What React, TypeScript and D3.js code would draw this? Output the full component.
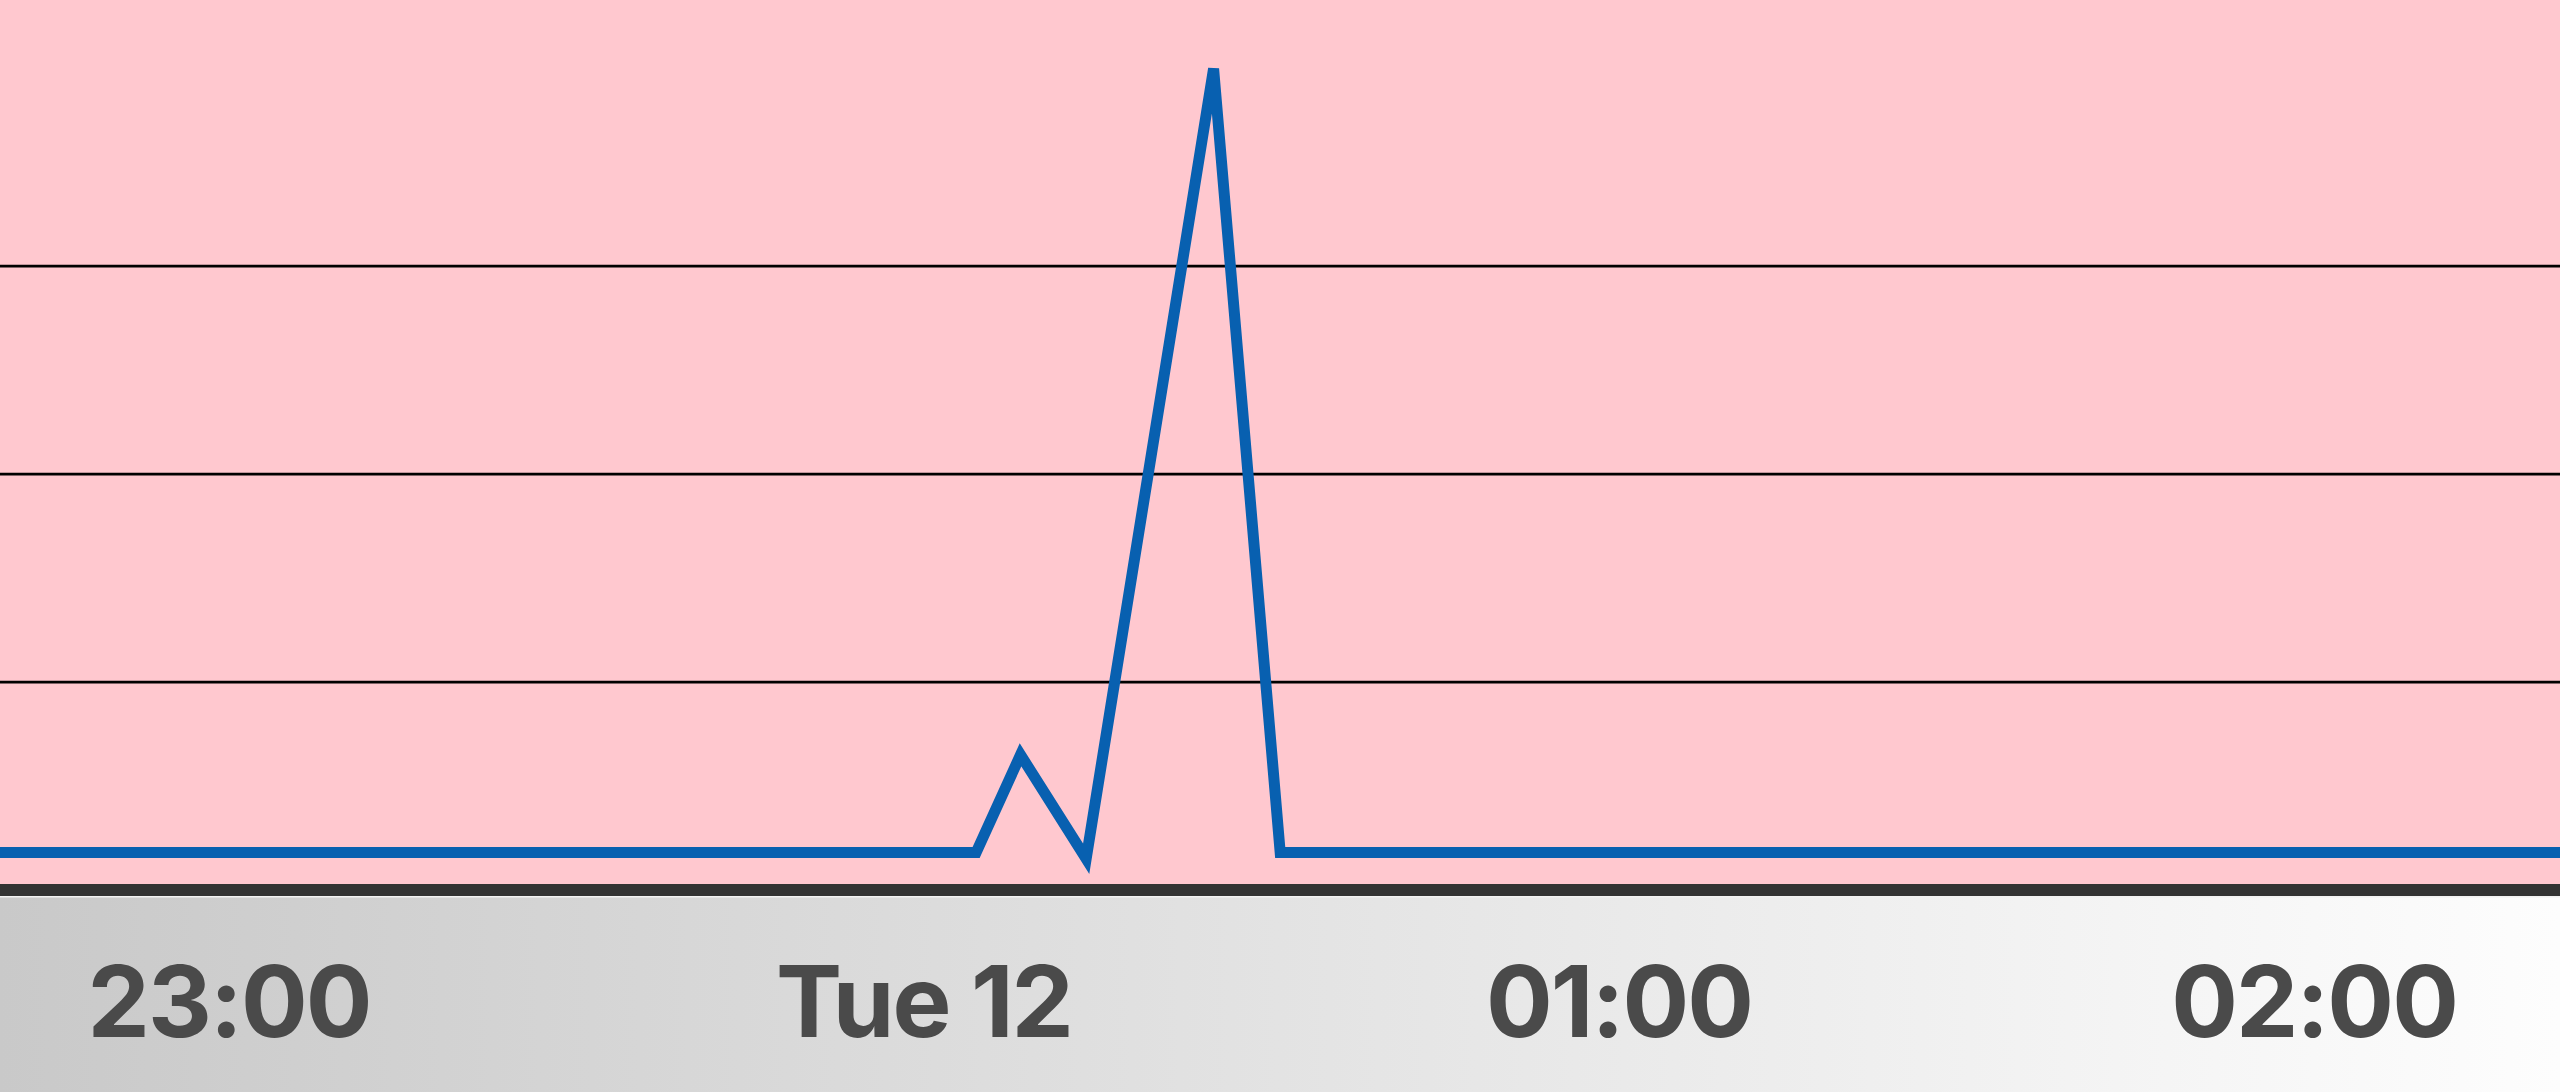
import * as d3 from "d3";
import { useEffect, useRef } from "react";

// samples of the series (local time, value)
const sampleTimes = [
  "2024-03-11T22:30:00",
  "2024-03-12T00:04:30",
  "2024-03-12T00:08:20",
  "2024-03-12T00:14:00",
  "2024-03-12T00:25:00",
  "2024-03-12T00:30:45",
  "2024-03-12T02:30:00",
];
const sampleValues = [0.18, 0.18, 0.65, 0.15, 3.95, 0.18, 0.18];

const gridValues = [1, 2, 3];
const tickTimes = [
  "2024-03-11T23:00:00",
  "2024-03-12T00:00:00",
  "2024-03-12T01:00:00",
  "2024-03-12T02:00:00",
];
const viewStart = "2024-03-11T22:40:14";
const viewEnd = "2024-03-12T02:21:14";

export default function App() {
  const ref = useRef<SVGSVGElement | null>(null);

  useEffect(() => {
    const svg = d3.select(ref.current);
    svg.selectAll("*").remove();

    const width = 2560;
    const height = 1092;
    const plotBottom = 890;
    const axisTop = 884;
    const axisH = 12;

    const parse = (s: string) => new Date(s);
    const data = sampleTimes.map((t, i) => ({
      t: parse(t),
      v: sampleValues[i],
    }));

    const x = d3
      .scaleTime()
      .domain([parse(viewStart), parse(viewEnd)])
      .range([0, width]);
    const y = d3.scaleLinear().domain([0, 4.28]).range([plotBottom, 0]);

    svg.attr("width", width).attr("height", height);

    const defs = svg.append("defs");
    const grad = defs
      .append("linearGradient")
      .attr("id", "band")
      .attr("x1", "0")
      .attr("x2", "1")
      .attr("y1", "0")
      .attr("y2", "0");
    grad.append("stop").attr("offset", "0").attr("stop-color", "#c9c9c9");
    grad.append("stop").attr("offset", "1").attr("stop-color", "#fdfdfd");
    defs
      .append("clipPath")
      .attr("id", "plot")
      .append("rect")
      .attr("width", width)
      .attr("height", axisTop);

    // plot background
    svg
      .append("rect")
      .attr("width", width)
      .attr("height", axisTop)
      .attr("fill", "#ffc8cf");

    // label band
    svg
      .append("rect")
      .attr("y", axisTop)
      .attr("width", width)
      .attr("height", height - axisTop)
      .attr("fill", "url(#band)");

    // grid lines
    svg
      .append("g")
      .selectAll("line")
      .data(gridValues)
      .enter()
      .append("line")
      .attr("x1", 0)
      .attr("x2", width)
      .attr("y1", (d) => y(d))
      .attr("y2", (d) => y(d))
      .attr("stroke", "#000")
      .attr("stroke-width", 2.8);

    const line = d3
      .line<{ t: Date; v: number }>()
      .x((d) => x(d.t))
      .y((d) => y(d.v));

    svg
      .append("path")
      .datum(data)
      .attr("clip-path", "url(#plot)")
      .attr("fill", "none")
      .attr("stroke", "#0860b0")
      .attr("stroke-width", 11)
      .attr("d", line);

    // axis bar
    svg
      .append("rect")
      .attr("y", axisTop)
      .attr("width", width)
      .attr("height", axisH)
      .attr("fill", "#333333");
    svg
      .append("rect")
      .attr("y", axisTop + axisH)
      .attr("width", width)
      .attr("height", 1.5)
      .attr("fill", "#f2f2f2");

    const fmt = (d: Date) =>
      d.getHours() === 0 && d.getMinutes() === 0
        ? d3.timeFormat("%a %d")(d)
        : d3.timeFormat("%H:%M")(d);

    svg
      .append("g")
      .selectAll("text")
      .data(tickTimes.map(parse))
      .enter()
      .append("text")
      .attr("x", (d) => x(d))
      .attr("y", 1037)
      .attr("text-anchor", "middle")
      .attr("fill", "#4a4a4a")
      .style("font-family", "Inter, 'Open Sans', sans-serif")
      .style("font-weight", "bold")
      .style("font-size", "99px")
      .style("letter-spacing", "-2px")
      .text(fmt);
  }, []);

  return (
    <div style={{ position: "fixed", left: 0, top: 0 }}>
      <svg ref={ref} style={{ display: "block" }}></svg>
    </div>
  );
}
